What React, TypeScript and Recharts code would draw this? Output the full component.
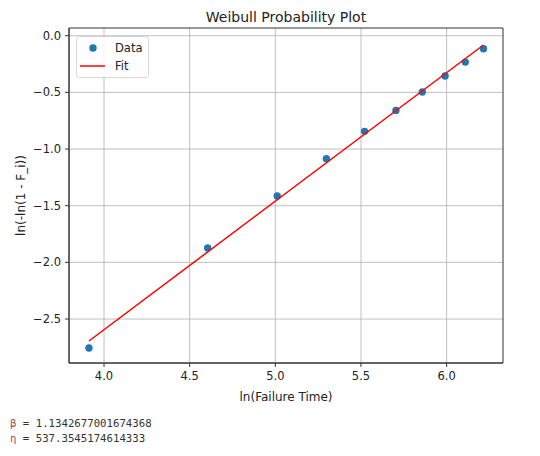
import React from 'react';
import {
  ScatterChart, Scatter, XAxis, YAxis, CartesianGrid, ReferenceArea,
} from 'recharts';

// ln(failure time) and ln(-ln(1 - F_i))
const lnTimes = [3.912, 4.605, 5.011, 5.298, 5.521, 5.704, 5.858, 5.991, 6.109, 6.215];
const lnRanks = [-2.756, -1.873, -1.414, -1.086, -0.844, -0.659, -0.497, -0.356, -0.233, -0.115];

// fitted line end points
const fitX = [3.912, 6.215];
const fitY = [-2.694, -0.082];

const xTicks = [4.0, 4.5, 5.0, 5.5, 6.0];
const yTicks = [0.0, -0.5, -1.0, -1.5, -2.0, -2.5];

const xDomain: [number, number] = [3.7956, 6.329];
const yDomain: [number, number] = [-2.888, 0.068];

const beta = '1.1342677001674368';
const eta = '537.3545174614333';

const font = '"DejaVu Sans", sans-serif';
const blue = '#1f77b4';

const dataPoints = lnTimes.map((x, i) => ({ x, y: lnRanks[i] }));
const fitPoints = fitX.map((x, i) => ({ x, y: fitY[i] }));

const fmt = (v: number) => (v < 0 ? '\u2212' : '') + Math.abs(v).toFixed(1);

const Dot = (p: any) => <circle cx={p.cx} cy={p.cy} r={3.7} fill={blue} />;
const NoDot = () => <g />;

const LegendBox = () => (
  <svg width={74} height={43} style={{ position: 'absolute', left: 76, top: 36, display: 'block' }}>
    <rect x={0.5} y={0.5} width={72} height={41} rx={3} fill="#fff" fillOpacity={0.8} stroke="#d6d6d6" />
    <circle cx={17} cy={12} r={3.7} fill={blue} />
    <text x={39} y={16} fontSize={11.5} fill="#222" fontFamily={font}>Data</text>
    <line x1={4} x2={29} y1={30} y2={30} stroke="red" strokeWidth={1.5} />
    <text x={39} y={34} fontSize={11.5} fill="#222" fontFamily={font}>Fit</text>
  </svg>
);

export default function App() {
  return (
    <div style={{ position: 'absolute', left: 0, top: 0, width: 540, height: 456, background: '#fff', fontFamily: font }}>
      <div style={{
        position: 'absolute', left: 69, width: 434, top: 8, textAlign: 'center',
        fontSize: 14, color: '#222', lineHeight: '18px',
      }}
      >
        Weibull Probability Plot
      </div>
      <ScatterChart
        width={540}
        height={456}
        margin={{ top: 28, right: 37, left: 9, bottom: 63 }}
      >
        <CartesianGrid stroke="#b0b0b0" strokeWidth={0.8} horizontalValues={yTicks} verticalValues={xTicks} />
        <XAxis
          type="number"
          dataKey="x"
          domain={xDomain}
          ticks={xTicks}
          allowDataOverflow
          tickFormatter={(v: number) => v.toFixed(1)}
          tick={{ fill: '#222', fontSize: 11.5, fontFamily: font }}
          tickSize={4}
          tickMargin={5}
          stroke="#333"
          height={30}
          label={{ value: 'ln(Failure Time)', position: 'insideBottom', offset: -8, fill: '#222', fontSize: 12, fontFamily: font }}
        />
        <YAxis
          type="number"
          dataKey="y"
          domain={yDomain}
          ticks={yTicks}
          allowDataOverflow
          tickFormatter={fmt}
          tick={{ fill: '#222', fontSize: 11.5, fontFamily: font }}
          tickSize={4}
          tickMargin={4}
          stroke="#333"
          width={60}
          label={{ value: 'ln(-ln(1 - F_i))', angle: -90, position: 'insideLeft', offset: 12, fill: '#222', fontSize: 12, fontFamily: font, style: { textAnchor: 'middle' } }}
        />
        <ReferenceArea x1={xDomain[0]} x2={xDomain[1]} y1={yDomain[0]} y2={yDomain[1]} fill="none" stroke="#333" strokeWidth={1} />
        <Scatter name="Data" data={dataPoints} shape={Dot} isAnimationActive={false} />
        <Scatter
          name="Fit"
          data={fitPoints}
          shape={NoDot}
          line={{ stroke: 'red', strokeWidth: 1.5 }}
          isAnimationActive={false}
        />
      </ScatterChart>
      <LegendBox />
      <div style={{
        position: 'absolute', left: 10, top: 416, fontFamily: '"DejaVu Sans Mono", monospace',
        fontSize: 10.7, lineHeight: '15px', color: '#333', whiteSpace: 'pre',
      }}
      >
        <div><span style={{ color: '#a0524f' }}>β</span> = {beta}</div>
        <div><span style={{ color: '#a0524f' }}>η</span> = {eta}</div>
      </div>
    </div>
  );
}
